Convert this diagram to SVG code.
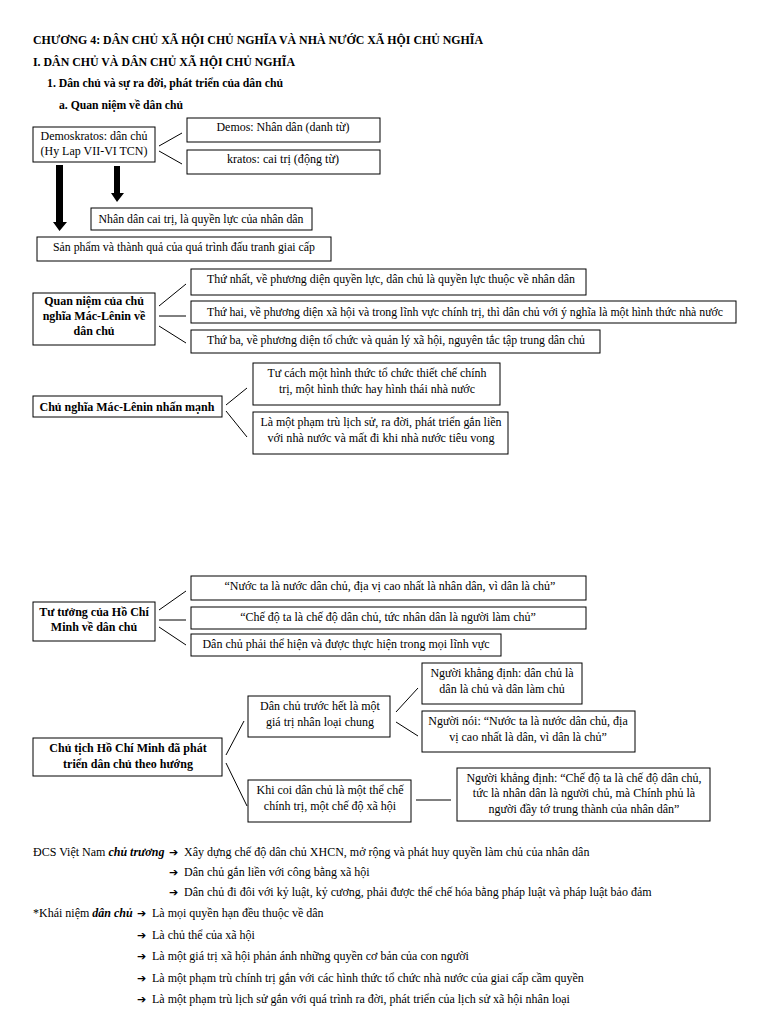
<svg xmlns="http://www.w3.org/2000/svg" width="768" height="1024" viewBox="0 0 768 1024">
<style>
text{font-family:"Liberation Serif","Times New Roman",serif;font-size:12px;fill:#000}
.h{font-weight:bold}
.c{text-anchor:middle}
.a{font-weight:bold;font-family:"DejaVu Sans",sans-serif;font-size:11px}
.b{fill:#fff;stroke:#000;stroke-width:1}
.l{stroke:#000;stroke-width:1;fill:none}
</style>
<rect width="768" height="1024" fill="#fff"/>
<g id="headings">
<text class="h" x="33" y="44" textLength="450" lengthAdjust="spacingAndGlyphs">CHƯƠNG 4: DÂN CHỦ XÃ HỘI CHỦ NGHĨA VÀ NHÀ NƯỚC XÃ HỘI CHỦ NGHĨA</text>
<text class="h" x="33" y="66" textLength="262" lengthAdjust="spacingAndGlyphs">I. DÂN CHỦ VÀ DÂN CHỦ XÃ HỘI CHỦ NGHĨA</text>
<text class="h" x="47" y="87" textLength="236" lengthAdjust="spacingAndGlyphs">1. Dân chủ và sự ra đời, phát triển của dân chủ</text>
<text class="h" x="59" y="109" textLength="124" lengthAdjust="spacingAndGlyphs">a. Quan niệm về dân chủ</text>
</g>
<g id="connectors">
<line class="l" x1="159" y1="146" x2="182" y2="133"/>
<line class="l" x1="159" y1="151" x2="182" y2="164"/>
<polygon points="56,165 63,165 63,222 67,222 59.5,231 53,222 56,222" fill="#000"/>
<polygon points="114,166 120,166 120,193 124,193 117,202 111,193 114,193" fill="#000"/>
<line class="l" x1="159" y1="306" x2="186" y2="284"/>
<line class="l" x1="159" y1="316" x2="186" y2="316"/>
<line class="l" x1="159" y1="326" x2="186" y2="343"/>
<line class="l" x1="226" y1="405" x2="247" y2="388"/>
<line class="l" x1="226" y1="411" x2="247" y2="437"/>
<line class="l" x1="159" y1="610" x2="186" y2="591"/>
<line class="l" x1="159" y1="620" x2="186" y2="620"/>
<line class="l" x1="159" y1="627" x2="186" y2="645"/>
<line class="l" x1="226" y1="755" x2="244" y2="721"/>
<line class="l" x1="226" y1="763" x2="247" y2="806"/>
<line class="l" x1="396" y1="712" x2="418" y2="688"/>
<line class="l" x1="396" y1="722" x2="418" y2="736"/>
<line class="l" x1="416" y1="800" x2="451" y2="800"/>
</g>
<g id="demoskratos">
<rect class="b" x="33" y="127" width="122" height="35"/>
<text class="c" x="94" y="140" textLength="107" lengthAdjust="spacingAndGlyphs">Demoskratos: dân chủ</text>
<text class="c" x="94" y="155" textLength="107" lengthAdjust="spacingAndGlyphs">(Hy Lap VII-VI TCN)</text>
</g>
<g id="demos">
<rect class="b" x="187" y="118" width="193" height="24"/>
<text class="c" x="283" y="131" textLength="133" lengthAdjust="spacingAndGlyphs">Demos: Nhân dân (danh từ)</text>
</g>
<g id="kratos">
<rect class="b" x="187" y="150" width="193" height="24"/>
<text class="c" x="283" y="163" textLength="112" lengthAdjust="spacingAndGlyphs">kratos: cai trị (động từ)</text>
</g>
<g id="nhandan">
<rect class="b" x="91" y="208" width="221" height="22"/>
<text class="c" x="201" y="223" textLength="205" lengthAdjust="spacingAndGlyphs">Nhân dân cai trị, là quyền lực của nhân dân</text>
</g>
<g id="sanpham">
<rect class="b" x="37" y="237" width="294" height="24"/>
<text class="c" x="184" y="251" textLength="262" lengthAdjust="spacingAndGlyphs">Sản phẩm và thành quả của quá trình đấu tranh giai cấp</text>
</g>
<g id="quanniem">
<rect class="b" x="33" y="293" width="122" height="52"/>
<text class="h c" x="94" y="305">Quan niệm của chủ</text>
<text class="h c" x="94" y="320">nghĩa Mác-Lênin về</text>
<text class="h c" x="94" y="335">dân chủ</text>
</g>
<g id="thunhat">
<rect class="b" x="191" y="269" width="395" height="26"/>
<text x="207" y="283" textLength="368" lengthAdjust="spacingAndGlyphs">Thứ nhất, về phương diện quyền lực, dân chủ là quyền lực thuộc về nhân dân</text>
</g>
<g id="thuhai">
<rect class="b" x="191" y="301" width="545" height="22"/>
<text x="207" y="316" textLength="516" lengthAdjust="spacingAndGlyphs">Thứ hai, về phương diện xã hội và trong lĩnh vực chính trị, thì dân chủ với ý nghĩa là một hình thức nhà nước</text>
</g>
<g id="thuba">
<rect class="b" x="191" y="330" width="409" height="23"/>
<text x="207" y="344" textLength="378" lengthAdjust="spacingAndGlyphs">Thứ ba, về phương diện tổ chức và quản lý xã hội, nguyên tắc tập trung dân chủ</text>
</g>
<g id="nhanmanh">
<rect class="b" x="33" y="396" width="189" height="21"/>
<text class="h c" x="127" y="411" textLength="175" lengthAdjust="spacingAndGlyphs">Chủ nghĩa Mác-Lênin nhấn mạnh</text>
</g>
<g id="tucach">
<rect class="b" x="253" y="363" width="247" height="42"/>
<text class="c" x="377" y="377" textLength="219" lengthAdjust="spacingAndGlyphs">Tư cách một hình thức tổ chức thiết chế chính</text>
<text class="c" x="377" y="393" textLength="196" lengthAdjust="spacingAndGlyphs">trị, một hình thức hay hình thái nhà nước</text>
</g>
<g id="phamtru">
<rect class="b" x="253" y="412" width="255" height="42"/>
<text class="c" x="381" y="426" textLength="241" lengthAdjust="spacingAndGlyphs">Là một phạm trù lịch sử, ra đời, phát triển gắn liền</text>
<text class="c" x="381" y="442" textLength="227" lengthAdjust="spacingAndGlyphs">với nhà nước và mất đi khi nhà nước tiêu vong</text>
</g>
<g id="tutuong">
<rect class="b" x="33" y="602" width="122" height="39"/>
<text class="h c" x="94" y="616">Tư tưởng của Hồ Chí</text>
<text class="h c" x="94" y="631">Minh về dân chủ</text>
</g>
<g id="nuocta">
<rect class="b" x="191" y="576" width="395" height="24"/>
<text class="c" x="390" y="590">“Nước ta là nước dân chủ, địa vị cao nhất là nhân dân, vì dân là chủ”</text>
</g>
<g id="chedo">
<rect class="b" x="191" y="607" width="395" height="22"/>
<text class="c" x="388" y="621">“Chế độ ta là chế độ dân chủ, tức nhân dân là người làm chủ”</text>
</g>
<g id="moilinhvuc">
<rect class="b" x="191" y="634" width="310" height="22"/>
<text class="c" x="346" y="648">Dân chủ phải thể hiện và được thực hiện trong mọi lĩnh vực</text>
</g>
<g id="chutich">
<rect class="b" x="33" y="738" width="189" height="38"/>
<text class="h c" x="128" y="752">Chủ tịch Hồ Chí Minh đã phát</text>
<text class="h c" x="128" y="768">triển dân chủ theo hướng</text>
</g>
<g id="giatri">
<rect class="b" x="248" y="696" width="142" height="41"/>
<text class="c" x="320" y="710">Dân chủ trước hết là một</text>
<text class="c" x="320" y="726">giá trị nhân loại chung</text>
</g>
<g id="khangdinh1">
<rect class="b" x="422" y="663" width="160" height="41"/>
<text class="c" x="502" y="677">Người khẳng định: dân chủ là</text>
<text class="c" x="502" y="693">dân là chủ và dân làm chủ</text>
</g>
<g id="nguoinoi">
<rect class="b" x="422" y="711" width="213" height="41"/>
<text class="c" x="528" y="725">Người nói: “Nước ta là nước dân chủ, địa</text>
<text class="c" x="528" y="741">vị cao nhất là dân, vì dân là chủ”</text>
</g>
<g id="thethe">
<rect class="b" x="248" y="780" width="163" height="42"/>
<text class="c" x="330" y="794">Khi coi dân chủ là một thể chế</text>
<text class="c" x="330" y="810">chính trị, một chế độ xã hội</text>
</g>
<g id="khangdinh2">
<rect class="b" x="457" y="768" width="253" height="53"/>
<text class="c" x="584" y="782">Người khẳng định: “Chế độ ta là chế độ dân chủ,</text>
<text class="c" x="584" y="797">tức là nhân dân là người chủ, mà Chính phủ là</text>
<text class="c" x="584" y="813">người đầy tớ trung thành của nhân dân”</text>
</g>
<g id="notes">
<text x="33" y="856">ĐCS Việt Nam <tspan font-weight="bold" font-style="italic">chủ trương</tspan></text>
<text class="a" x="169" y="856">➔</text><text x="184" y="856">Xây dựng chế độ dân chủ XHCN, mở rộng và phát huy quyền làm chủ của nhân dân</text>
<text class="a" x="169" y="876">➔</text><text x="184" y="876">Dân chủ gắn liền với công bằng xã hội</text>
<text class="a" x="169" y="896">➔</text><text x="184" y="896">Dân chủ đi đôi với kỷ luật, kỷ cương, phải được thể chế hóa bằng pháp luật và pháp luật bảo đảm</text>
<text x="33" y="917">*Khái niệm <tspan font-weight="bold" font-style="italic">dân chủ</tspan></text>
<text class="a" x="137" y="917">➔</text><text x="152" y="917">Là mọi quyền hạn đều thuộc về dân</text>
<text class="a" x="137" y="939">➔</text><text x="152" y="939">Là chủ thể của xã hội</text>
<text class="a" x="137" y="960">➔</text><text x="152" y="960">Là một giá trị xã hội phản ánh những quyền cơ bản của con người</text>
<text class="a" x="137" y="982">➔</text><text x="152" y="982">Là một phạm trù chính trị gắn với các hình thức tổ chức nhà nước của giai cấp cầm quyền</text>
<text class="a" x="137" y="1003">➔</text><text x="152" y="1003">Là một phạm trù lịch sử gắn với quá trình ra đời, phát triển của lịch sử xã hội nhân loại</text>
</g>
</svg>
